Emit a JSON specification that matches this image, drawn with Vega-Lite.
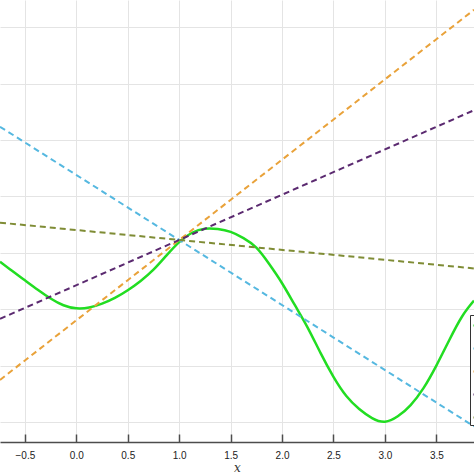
{
  "$schema": "https://vega.github.io/schema/vega-lite/v6.json",
  "width": 474,
  "height": 442,
  "autosize": {"type": "none"},
  "padding": {"left": 0, "top": 0, "right": 0, "bottom": 32},
  "background": "white",
  "config": {
    "view": {"stroke": null},
    "legend": {
      "orient": "none",
      "legendX": 470,
      "legendY": 315,
      "strokeColor": "#333333",
      "fillColor": "white",
      "padding": 2,
      "rowPadding": 9,
      "symbolType": "stroke",
      "symbolStrokeWidth": 2,
      "symbolSize": 200,
      "labelFontSize": 9,
      "title": null
    }
  },
  "data": {
    "values": [
      {"series": "f(x)", "x": -0.742, "y": 2.842},
      {"series": "f(x)", "x": -0.625, "y": 2.68},
      {"series": "f(x)", "x": -0.5, "y": 2.512},
      {"series": "f(x)", "x": -0.375, "y": 2.345},
      {"series": "f(x)", "x": -0.25, "y": 2.19},
      {"series": "f(x)", "x": -0.125, "y": 2.07},
      {"series": "f(x)", "x": 0.0, "y": 2.016},
      {"series": "f(x)", "x": 0.125, "y": 2.03},
      {"series": "f(x)", "x": 0.25, "y": 2.098},
      {"series": "f(x)", "x": 0.375, "y": 2.2},
      {"series": "f(x)", "x": 0.5, "y": 2.335},
      {"series": "f(x)", "x": 0.625, "y": 2.5},
      {"series": "f(x)", "x": 0.75, "y": 2.7},
      {"series": "f(x)", "x": 0.875, "y": 2.95},
      {"series": "f(x)", "x": 1.0, "y": 3.19},
      {"series": "f(x)", "x": 1.125, "y": 3.355},
      {"series": "f(x)", "x": 1.25, "y": 3.425},
      {"series": "f(x)", "x": 1.375, "y": 3.42},
      {"series": "f(x)", "x": 1.5, "y": 3.37},
      {"series": "f(x)", "x": 1.625, "y": 3.26},
      {"series": "f(x)", "x": 1.75, "y": 3.09},
      {"series": "f(x)", "x": 1.875, "y": 2.8},
      {"series": "f(x)", "x": 2.0, "y": 2.46},
      {"series": "f(x)", "x": 2.125, "y": 2.07},
      {"series": "f(x)", "x": 2.25, "y": 1.67},
      {"series": "f(x)", "x": 2.375, "y": 1.22},
      {"series": "f(x)", "x": 2.5, "y": 0.8},
      {"series": "f(x)", "x": 2.625, "y": 0.46},
      {"series": "f(x)", "x": 2.75, "y": 0.23},
      {"series": "f(x)", "x": 2.875, "y": 0.07},
      {"series": "f(x)", "x": 3.0, "y": 0.005},
      {"series": "f(x)", "x": 3.125, "y": 0.1},
      {"series": "f(x)", "x": 3.25, "y": 0.3},
      {"series": "f(x)", "x": 3.375, "y": 0.6},
      {"series": "f(x)", "x": 3.5, "y": 1.0},
      {"series": "f(x)", "x": 3.625, "y": 1.45},
      {"series": "f(x)", "x": 3.75, "y": 1.87},
      {"series": "f(x)", "x": 3.866, "y": 2.151},
      {"series": "g₁(x)", "x": -0.742, "y": 5.235},
      {"series": "g₁(x)", "x": 3.866, "y": -0.077},
      {"series": "g₂(x)", "x": -0.742, "y": 0.746},
      {"series": "g₂(x)", "x": 3.866, "y": 7.308},
      {"series": "g₃(x)", "x": -0.742, "y": 1.829},
      {"series": "g₃(x)", "x": 3.866, "y": 5.527},
      {"series": "g₄(x)", "x": -0.742, "y": 3.534},
      {"series": "g₄(x)", "x": 3.866, "y": 2.723}
    ]
  },
  "encoding": {
    "x": {
      "field": "x",
      "type": "quantitative",
      "scale": {"domain": [-0.742, 3.866], "nice": false, "zero": false},
      "axis": {
        "values": [-0.5, 0, 0.5, 1, 1.5, 2, 2.5, 3, 3.5],
        "grid": true,
        "gridColor": "#e4e4e4",
        "gridWidth": 1,
        "domain": true,
        "domainColor": "#4d4d4d",
        "domainWidth": 1.5,
        "ticks": true,
        "tickColor": "#4d4d4d",
        "tickWidth": 1.5,
        "tickSize": -8,
        "labelFont": "Liberation Sans",
        "labelFontSize": 10,
        "labelColor": "#222222",
        "labelPadding": 16,
        "labelFlush": false,
        "title": "x",
        "titleFont": "DejaVu Serif",
        "titleFontStyle": "italic",
        "titleFontWeight": "normal",
        "titleFontSize": 12,
        "titleColor": "#333333",
        "titlePadding": 2
      }
    },
    "y": {
      "field": "y",
      "type": "quantitative",
      "scale": {"domain": [-0.355, 7.482], "nice": false, "zero": false},
      "axis": {
        "values": [0, 1, 2, 3, 4, 5, 6, 7],
        "grid": true,
        "gridColor": "#e4e4e4",
        "gridWidth": 1,
        "domain": false,
        "ticks": false,
        "labels": false,
        "title": null
      }
    },
    "color": {
      "field": "series",
      "type": "nominal",
      "scale": {
        "domain": ["f(x)", "g₁(x)", "g₂(x)", "g₃(x)", "g₄(x)"],
        "range": ["#22dd22", "#55b8e0", "#e9a23a", "#5b2a70", "#7f8c35"]
      }
    }
  },
  "layer": [
    {
      "transform": [{"filter": "datum.series === 'f(x)'"}],
      "mark": {"type": "line", "strokeWidth": 2.5, "interpolate": "natural", "clip": true}
    },
    {
      "transform": [{"filter": "datum.series !== 'f(x)'"}],
      "mark": {"type": "line", "strokeWidth": 2, "strokeDash": [6, 4], "clip": true}
    }
  ]
}
